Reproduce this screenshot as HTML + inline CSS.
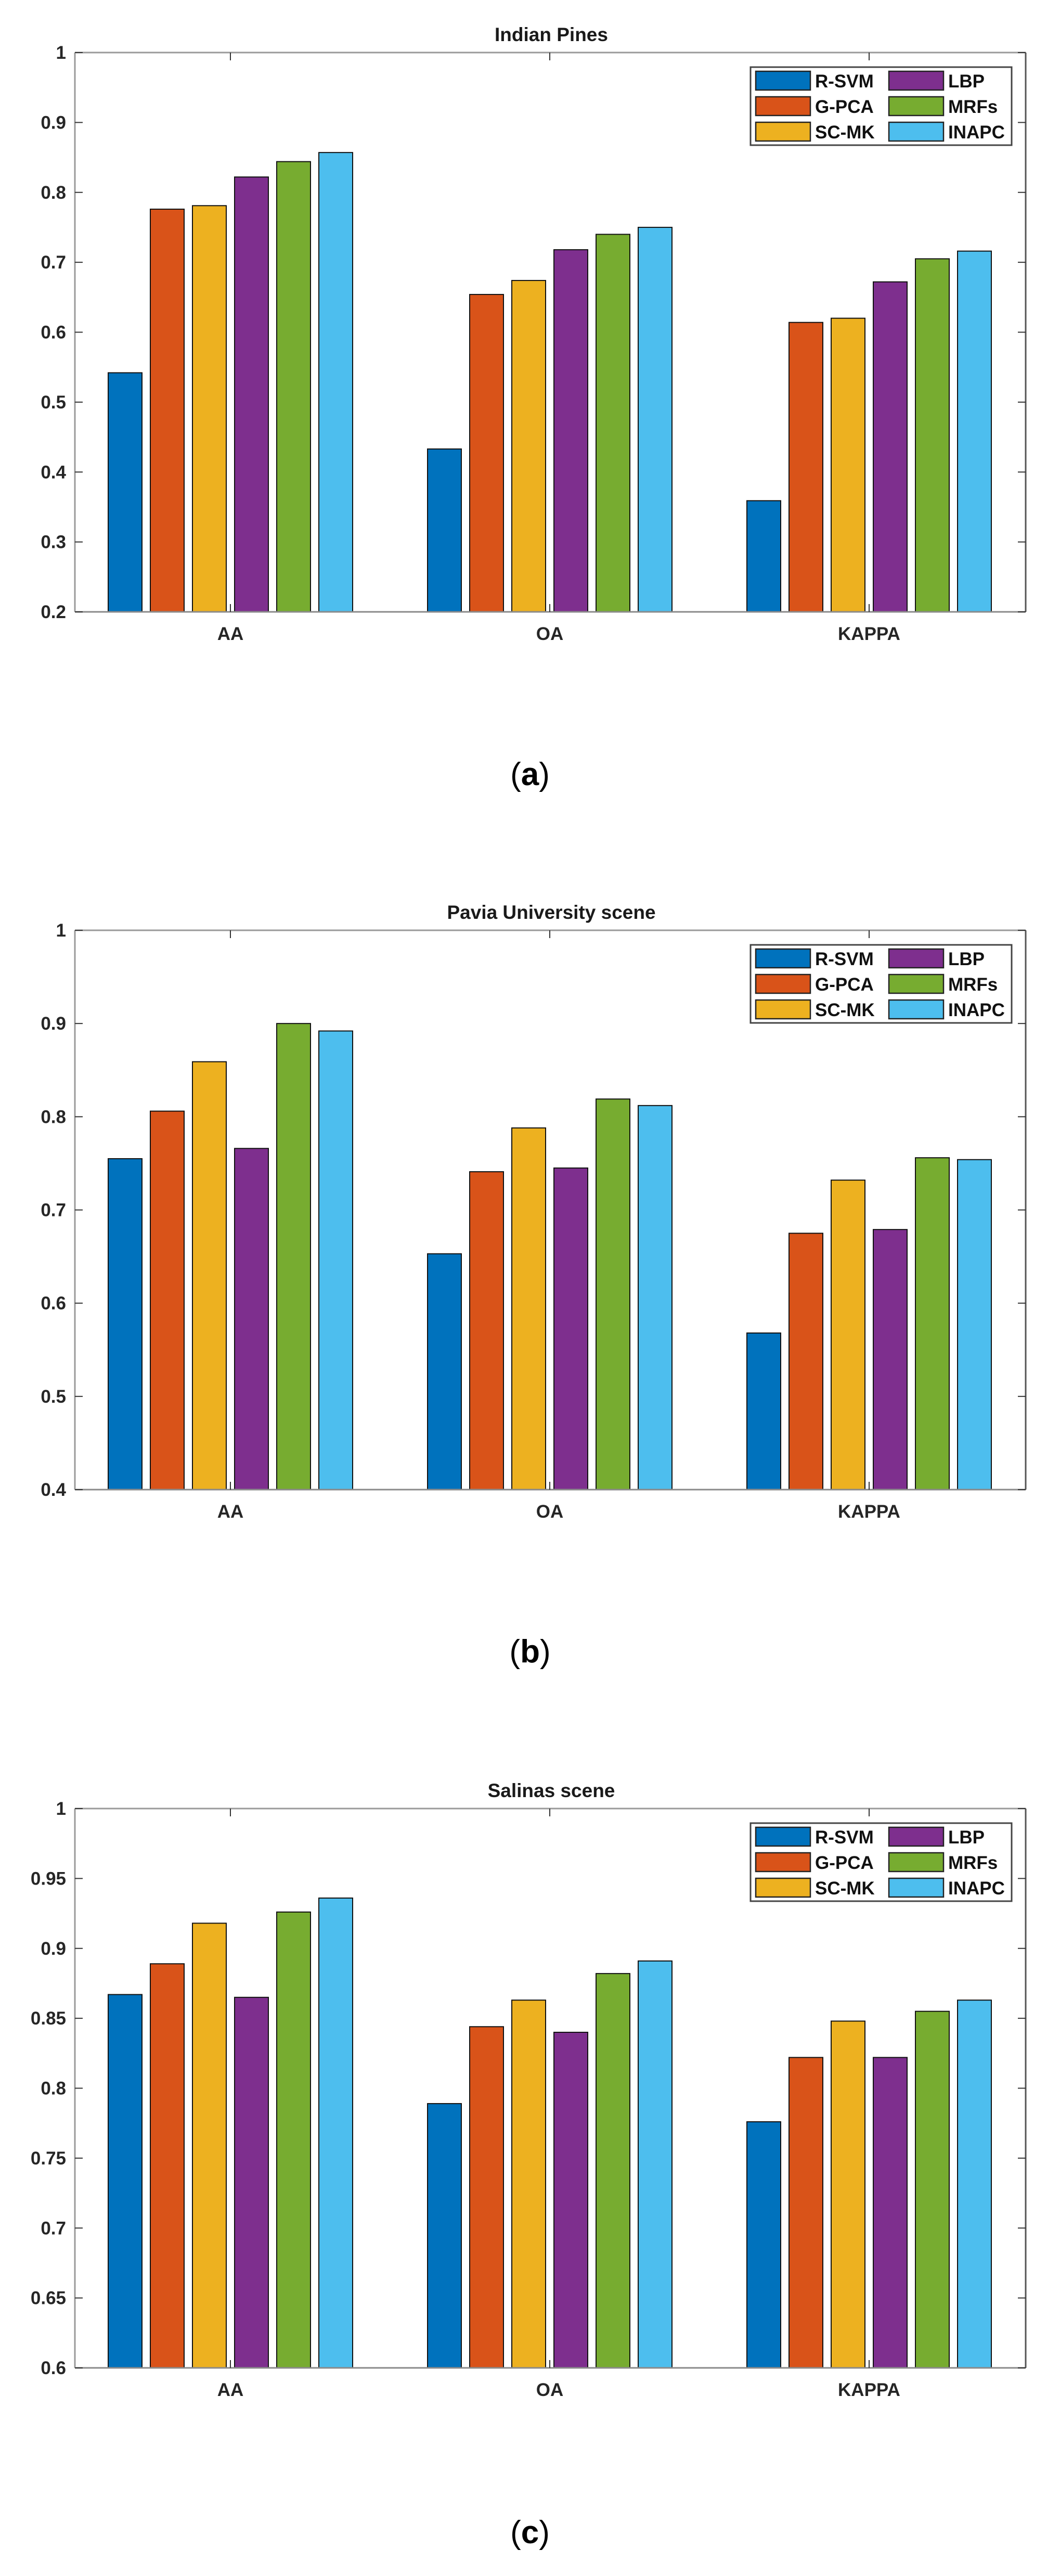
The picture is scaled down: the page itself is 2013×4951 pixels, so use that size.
<!DOCTYPE html>
<html><head><meta charset="utf-8"><title>Classification accuracy comparison</title>
<style>
html,body{margin:0;padding:0;background:#fff;}
svg{display:block;}
text{font-family:"Liberation Sans",Arial,sans-serif;}
</style></head>
<body>
<svg id="fig" width="2013" height="4951" viewBox="0 0 2013 4951" xmlns="http://www.w3.org/2000/svg"></svg>
<script>
const categories = ["AA", "OA", "KAPPA"];
const methods = ["R-SVM", "G-PCA", "SC-MK", "LBP", "MRFs", "INAPC"];
const colors = ["#0072BD", "#D95319", "#EDB120", "#7E2F8E", "#77AC30", "#4DBEEE"];

const titleA = "Indian Pines";
const valuesA = [
  [0.542, 0.776, 0.781, 0.822, 0.844, 0.857],
  [0.433, 0.654, 0.674, 0.718, 0.740, 0.750],
  [0.359, 0.614, 0.620, 0.672, 0.705, 0.716]
];
const ticksA = [0.2, 0.3, 0.4, 0.5, 0.6, 0.7, 0.8, 0.9, 1];
const tickLabelsA = ["0.2", "0.3", "0.4", "0.5", "0.6", "0.7", "0.8", "0.9", "1"];

const titleB = "Pavia University scene";
const valuesB = [
  [0.755, 0.806, 0.859, 0.766, 0.900, 0.892],
  [0.653, 0.741, 0.788, 0.745, 0.819, 0.812],
  [0.568, 0.675, 0.732, 0.679, 0.756, 0.754]
];
const ticksB = [0.4, 0.5, 0.6, 0.7, 0.8, 0.9, 1];
const tickLabelsB = ["0.4", "0.5", "0.6", "0.7", "0.8", "0.9", "1"];

const titleC = "Salinas scene";
const valuesC = [
  [0.867, 0.889, 0.918, 0.865, 0.926, 0.936],
  [0.789, 0.844, 0.863, 0.840, 0.882, 0.891],
  [0.776, 0.822, 0.848, 0.822, 0.855, 0.863]
];
const ticksC = [0.6, 0.65, 0.7, 0.75, 0.8, 0.85, 0.9, 0.95, 1];
const tickLabelsC = ["0.6", "0.65", "0.7", "0.75", "0.8", "0.85", "0.9", "0.95", "1"];

const NS = "http://www.w3.org/2000/svg";
const svg = document.getElementById("fig");
function mk(tag, attrs, parent) {
  const e = document.createElementNS(NS, tag);
  for (const k in attrs) e.setAttribute(k, attrs[k]);
  (parent || svg).appendChild(e);
  return e;
}

function drawChart(key, top, title, values, ticks, tickLabels, caption, captionY) {
  const L = 144, R = 1972, B = top + 1075;
  const yMin = ticks[0], yMax = ticks[ticks.length - 1];
  const y = v => B - (v - yMin) / (yMax - yMin) * (B - top);
  const groupX = i => 443 + i * 614;
  const barStep = 81, barW = 65;
  const g = mk("g", {});
  
  

  const t = mk("text", {x: 1060, y: top - 22, "text-anchor": "middle", "font-size": 37, "font-weight": "bold", fill: "#1a1a1a"}, g);
  t.textContent = title;
  
  

  // bars
  values.forEach((row, gi) => {
    row.forEach((v, mi) => {
      const cx = groupX(gi) + (mi - 2.5) * barStep;
      const r = mk("rect", {x: cx - barW / 2, y: y(v), width: barW, height: B - y(v), fill: colors[mi], stroke: "#111", "stroke-width": 2}, g);
      
      
    });
  });

  // axes box
  mk("line", {x1: L, y1: top, x2: R, y2: top, stroke: "#9a9a9a", "stroke-width": 3}, g);
  mk("line", {x1: L, y1: B, x2: R, y2: B, stroke: "#8a8a8a", "stroke-width": 3}, g);
  const ya = mk("line", {x1: L, y1: top, x2: L, y2: B, stroke: "#9a9a9a", "stroke-width": 3}, g);
  
  
  mk("line", {x1: R, y1: top, x2: R, y2: B, stroke: "#555", "stroke-width": 3}, g);

  // y ticks
  ticks.forEach((tv, i) => {
    const ty = y(tv);
    mk("line", {x1: L, y1: ty, x2: L + 15, y2: ty, stroke: "#333", "stroke-width": 2}, g);
    mk("line", {x1: R, y1: ty, x2: R - 15, y2: ty, stroke: "#333", "stroke-width": 2}, g);
    const lbl = mk("text", {x: 127, y: ty + 12, "text-anchor": "end", "font-size": 35, "font-weight": "bold", fill: "#262626"}, g);
    lbl.textContent = tickLabels[i];
    
    
  });

  // x ticks + labels
  categories.forEach((c, i) => {
    const gx = groupX(i);
    mk("line", {x1: gx, y1: B, x2: gx, y2: B - 15, stroke: "#333", "stroke-width": 2}, g);
    mk("line", {x1: gx, y1: top, x2: gx, y2: top + 15, stroke: "#333", "stroke-width": 2}, g);
    const lbl = mk("text", {x: gx, y: B + 54, "text-anchor": "middle", "font-size": 35, "font-weight": "bold", fill: "#262626"}, g);
    lbl.textContent = c;
    
    
  });

  // legend
  const lg = mk("g", {}, g);
  
  
  const lt = top + 28;
  mk("rect", {x: 1443, y: lt, width: 502, height: 150, fill: "#fff", stroke: "#444", "stroke-width": 3}, lg);
  methods.forEach((m, i) => {
    const col = Math.floor(i / 3), row = i % 3;
    const sx = col === 0 ? 1453 : 1709;
    const cy = lt + 26 + row * 49;
    const ent = mk("g", {}, lg);
    
    
    mk("rect", {x: sx, y: cy - 18, width: 105, height: 36, fill: colors[i], stroke: "#222", "stroke-width": 2.5}, ent);
    const tx = mk("text", {x: sx + 114, y: cy + 13, "font-size": 35, "font-weight": "bold", fill: "#111"}, ent);
    tx.textContent = m;
  });

  const cap = mk("text", {x: 1019, y: captionY + 20, "text-anchor": "middle", "font-size": 62, fill: "#000", "font-family": "'Liberation Serif', serif"}, g);
  
  
  const p1 = document.createElementNS(NS, "tspan"); p1.textContent = "(";
  const p2 = document.createElementNS(NS, "tspan"); p2.setAttribute("font-weight", "bold"); p2.textContent = caption;
  const p3 = document.createElementNS(NS, "tspan"); p3.textContent = ")";
  cap.appendChild(p1); cap.appendChild(p2); cap.appendChild(p3);
}

drawChart("a", 101, titleA, valuesA, ticksA, tickLabelsA, "a", 1489);
drawChart("b", 1788, titleB, valuesB, ticksB, tickLabelsB, "b", 3175);
drawChart("c", 3476, titleC, valuesC, ticksC, tickLabelsC, "c", 4868);
</script>
</body></html>
